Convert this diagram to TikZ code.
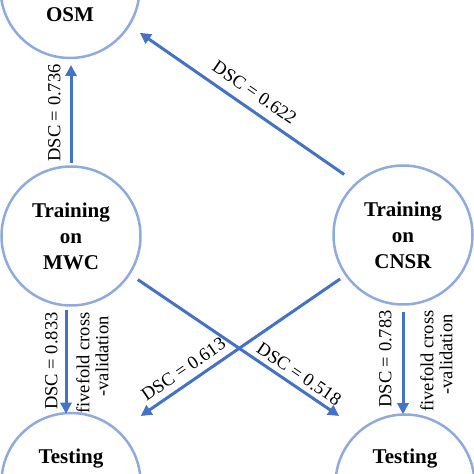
\documentclass[tikz,border=0pt]{standalone}
\usepackage{fontspec}
\setmainfont{Liberation Serif}
\usetikzlibrary{arrows.meta}
\definecolor{ring}{HTML}{8FAADC}
\definecolor{arrowblue}{HTML}{4472C4}
\begin{document}
\begin{tikzpicture}[x=1pt,y=1pt,
  circ/.style={circle, draw=ring, line width=2.5pt, minimum size=139pt, inner sep=0pt,
    font=\fontsize{21}{26}\selectfont\bfseries, align=center},
  nodetxt/.style={font=\fontsize{21}{26}\selectfont\bfseries, inner sep=0pt},
  arr/.style={draw=arrowblue, line width=3pt, -{Triangle[length=11pt,width=11pt]}},
  rarr/.style={draw=arrowblue, line width=3pt, {Triangle[length=11pt,width=11pt]}-},
  lab/.style={font=\fontsize{18.5}{19}\selectfont, inner sep=0pt, sloped},
]
\useasboundingbox (0,0) rectangle (474,474);
\fill[white] (0,0) rectangle (474,474);
\clip (0,0) rectangle (474,474);

\node[circ, label={[nodetxt, yshift=-26pt]center:OSM}] (osm) at (70,485.5) {};
\node[circ] (mwc) at (71,238) {Training\\on\\MWC};
\node[circ] (cnsr) at (403,239) {Training\\on\\CNSR};
\node[circ, label={[nodetxt, yshift=24pt]center:Testing}] (testL) at (71,-8.5) {};
\node[circ, label={[nodetxt, yshift=25pt]center:Testing}] (testR) at (405,-10) {};

\coordinate (lt) at ([xshift=-5pt]mwc.south);

\draw[arr, shorten <=2pt, shorten >=5.75pt] (mwc.north) --
  node[lab, pos=0.493, above=8.75pt] {DSC = 0.736} (mwc.north |- osm.south);

\draw[rarr, shorten <=-2pt, shorten >=3pt] (lt |- testL.north) --
  node[lab, pos=0.483, above=6.75pt] {DSC = 0.833}
  node[lab, pos=0.464, below=8.9pt, align=right] {fivefold cross\\-validation\hspace*{4pt}} (lt);

\draw[rarr, shorten <=-1pt, shorten >=6pt] (cnsr.south |- testR.north) --
  node[lab, pos=0.505, above=9.75pt] {DSC = 0.783}
  node[lab, pos=0.486, below=15.9pt, align=right] {fivefold cross\\-validation\hspace*{4pt}} (cnsr.south);

\draw[arr, shorten <=14pt, shorten >=12pt] (cnsr.132) --
  node[lab, pos=0.489, above=8.5pt] {DSC = 0.622} (osm.-32);
\draw[arr, shorten <=6pt, shorten >=26pt] (cnsr.215) --
  node[lab, pos=0.680, above=6.5pt] {DSC = 0.613} (testL.47);
\draw[arr, shorten <=9pt, shorten >=24.6pt] (mwc.-33) --
  node[lab, pos=0.706, above=4.5pt] {DSC = 0.518} (testR.130);
\end{tikzpicture}
\end{document}
